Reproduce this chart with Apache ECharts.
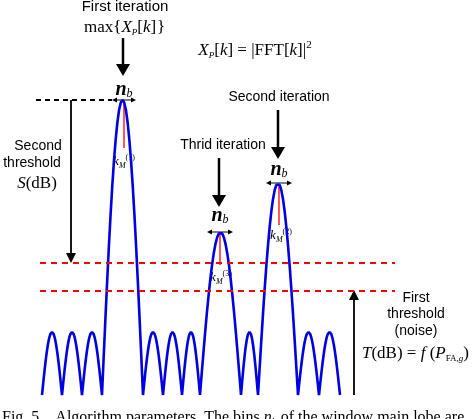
<!DOCTYPE html>
<html><head><meta charset="utf-8">
<script src="https://cdn.jsdelivr.net/npm/echarts@6/dist/echarts.min.js"></script>
<style>html,body{margin:0;padding:0;background:#fff}#c{width:474px;height:419px}</style>
</head><body><div id="c"></div>
<script>
// lobes: [start x, end x, peak level] (diagram units, y grows downward)
const lobeStarts = [42, 62, 82, 102, 143, 163, 182, 200, 241, 258, 298, 319];
const lobeEnds   = [62, 82, 102, 143, 163, 182, 200, 241, 258, 298, 319, 340];
const lobePeaks  = [332, 332, 332, 100, 332, 332, 332, 232, 332, 183, 332, 332];
const baseline = 395;
const thresholds = [263, 291];

const curve = [];
lobeStarts.forEach((s, i) => {
  const e = lobeEnds[i], h = baseline - lobePeaks[i];
  const n = 24;
  for (let j = (i === 0 ? 0 : 1); j <= n; j++) {
    const t = j / n;
    curve.push([s + (e - s) * t, baseline - h * Math.sin(Math.PI * t)]);
  }
});

const serif = '"Liberation Serif","DejaVu Serif",serif';
const sans = '"Liberation Sans",Arial,sans-serif';
const g = [];
function arrow(x1, y1, x2, y2, w, hl, hw, color) {
  color = color || '#000';
  const dx = x2 - x1, dy = y2 - y1, L = Math.hypot(dx, dy), ux = dx / L, uy = dy / L;
  const bx = x2 - ux * hl, by = y2 - uy * hl;
  g.push({type: 'line', shape: {x1, y1, x2: bx, y2: by}, style: {stroke: color, lineWidth: w}});
  g.push({type: 'polygon', shape: {points: [[x2, y2], [bx - uy * hw, by + ux * hw], [bx + uy * hw, by - ux * hw]]}, style: {fill: color}});
}
function dbl(xc, y, half) {
  arrow(xc, y, xc - half, y, 1, 5, 2.5);
  arrow(xc, y, xc + half, y, 1, 5, 2.5);
}
function txt(x, y, text, font, size, align, rich, style) {
  g.push({type: 'text', x, y, style: Object.assign({text, fontFamily: font, fontSize: size, fill: '#000',
    align: align || 'center', verticalAlign: 'middle', rich: rich || {}}, style || {})});
}
const richK = {
  k: {fontFamily: serif, fontStyle: 'italic', fontSize: 13},
  s: {fontFamily: serif, fontStyle: 'italic', fontSize: 8, padding: [7, 0, 0, 0]},
  p: {fontFamily: serif, fontSize: 8, padding: [0, 0, 9, 0]}
};
const richNb = {
  n: {fontFamily: serif, fontStyle: 'italic', fontWeight: 'bold', fontSize: 20},
  b: {fontFamily: serif, fontStyle: 'italic', fontSize: 12, padding: [8, 0, 0, 0]}
};
const richM = {
  r: {fontFamily: serif, fontSize: 17},
  i: {fontFamily: serif, fontStyle: 'italic', fontSize: 17},
  s: {fontFamily: serif, fontStyle: 'italic', fontSize: 9, padding: [10, 0, 0, 0]},
  sr: {fontFamily: serif, fontSize: 9, padding: [10, 0, 0, 0]},
  sup: {fontFamily: serif, fontSize: 11, padding: [0, 0, 12, 0]}
};
const richC = {
  r: {fontFamily: serif, fontSize: 16},
  i: {fontFamily: serif, fontStyle: 'italic', fontSize: 16},
  s: {fontFamily: serif, fontStyle: 'italic', fontSize: 10, padding: [8, 0, 0, 0]}
};

// arrows
arrow(123, 38, 123, 76, 2.5, 12, 7);
arrow(278, 110, 278, 159, 2.5, 12, 7);
arrow(219, 158, 219, 207, 2.5, 12, 7);
arrow(71, 100, 71, 263, 1.8, 10, 5);
arrow(354, 395, 354, 290, 1.8, 10, 5);
dbl(124, 100, 12); dbl(279, 183, 13); dbl(220, 232, 13);
g.push({type: 'line', shape: {x1: 36, y1: 100, x2: 112, y2: 100}, style: {stroke: '#000', lineWidth: 2, lineDash: [5, 4]}});
// red peak lines
[[124, 100, 148], [279, 185, 225], [220, 234, 265]].forEach(a =>
  g.push({type: 'line', shape: {x1: a[0], y1: a[1], x2: a[0], y2: a[2]}, style: {stroke: '#ff2020', lineWidth: 1.5}}));

txt(125, 7, 'First iteration', sans, 15);
txt(84, 28, '{r|max{}{i|X}{s|P}{r|[}{i|k}{r|]}', serif, 16, 'left', richM);
txt(157, 28, '}', serif, 17, 'left');
txt(255, 51, '{i|X}{s|P}{r|[}{i|k}{r|] = |FFT[}{i|k}{r|]|}{sup|2}', serif, 17, 'center', richM);
txt(124, 90, '{n|n}{b|b}', serif, 20, 'center', richNb);
txt(220, 216, '{n|n}{b|b}', serif, 20, 'center', richNb);
txt(279, 170, '{n|n}{b|b}', serif, 20, 'center', richNb);
txt(279, 97, 'Second iteration', sans, 14);
txt(223, 145, 'Thrid iteration', sans, 14);
txt(124, 162, '{k|k}{s|M}{p|(1)}', serif, 12, 'center', richK);
txt(281, 236, '{k|k}{s|M}{p|(2)}', serif, 12, 'center', richK);
txt(221, 278, '{k|k}{s|M}{p|(3)}', serif, 12, 'center', richK);
txt(38, 146, 'Second', sans, 14);
txt(32, 163, 'threshold', sans, 14);
txt(37, 184, '{i|S}{r|(dB)}', serif, 17, 'center', richM);
txt(416, 298, 'First', sans, 14);
txt(416, 314, 'threshold', sans, 14);
txt(416, 331, '(noise)', sans, 14);
txt(362, 354, '{i|T}{r|(dB) = }{i|f}{r| (}{i|P}{sr|FA,}{s|g}{r|)}', serif, 17, 'left', richM);
txt(2, 418, '{r|Fig. 5.   Algorithm parameters. The bins }{i|n}{s|b}{r| of the window main lobe are}', serif, 16, 'left', richC);

const chart = echarts.init(document.getElementById('c'));
chart.setOption({
  animation: false,
  grid: {left: 0, right: 0, top: 0, bottom: 0},
  xAxis: {type: 'value', min: 0, max: 474, show: false},
  yAxis: {type: 'value', min: 0, max: 419, inverse: true, show: false},
  series: [{
    type: 'line', data: curve, showSymbol: false, smooth: false,
    lineStyle: {color: '#0000e0', width: 2.6},
    markLine: {
      symbol: 'none', silent: true, label: {show: false},
      lineStyle: {color: '#ff0000', type: [6, 5], width: 2},
      data: thresholds.map(y => [{coord: [40, y]}, {coord: [395, y]}])
    }
  }],
  graphic: g
});
</script></body></html>
